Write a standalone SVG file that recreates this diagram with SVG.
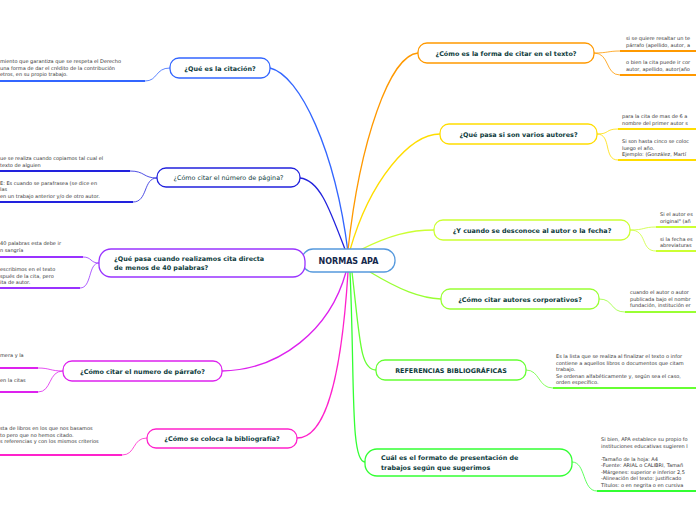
<svg xmlns="http://www.w3.org/2000/svg" width="696" height="520" viewBox="0 0 696 520">
<style>
.n{fill:#fff;stroke-width:1.3}
.t{font-family:"DejaVu Sans",sans-serif;font-weight:bold;font-size:6.4px;fill:#0d3b3b;text-anchor:middle}
.d{font-family:"DejaVu Sans",sans-serif;font-size:5px;fill:#333}
.c{fill:none;stroke-width:1.3}
.u{fill:none;stroke-width:2}
.l{fill:none;stroke-width:0.8}
</style>
<rect width="696" height="520" fill="#fff"/>
<g id="connectors">
<path class="c" stroke="#3366ff" d="M348,252 C335,150 300,75 270,68"/>
<path class="c" stroke="#2222dd" d="M346,252 C330,210 320,180 300,178"/>
<path class="c" stroke="#9933ff" d="M302,262 L305,262"/>
<path class="c" stroke="#dd22ee" d="M346,272 C330,330 280,370 222,371"/>
<path class="c" stroke="#ff22cc" d="M348,272 C340,400 320,438 297,438"/>
<path class="c" stroke="#ff9900" d="M348,250 C360,140 390,55 418,53"/>
<path class="c" stroke="#ffdd00" d="M350,250 C370,180 410,134 440,134"/>
<path class="c" stroke="#ccff33" d="M360,250 C390,235 410,230 434,230"/>
<path class="c" stroke="#99ff33" d="M370,272 C400,290 420,298 441,299"/>
<path class="c" stroke="#66ff33" d="M352,272 C360,340 360,370 376,370"/>
<path class="c" stroke="#33ff33" d="M350,272 C355,380 350,462 365,462"/>
<path class="u" stroke="#3366ff" d="M0,81 H145"/><path class="l" stroke="#3366ff" d="M145,81 C158,81 155,68 170,68"/>
<path class="u" stroke="#2222dd" d="M0,171 H130"/><path class="l" stroke="#2222dd" d="M130,171 C145,171 143,178 157,178"/>
<path class="u" stroke="#2222dd" d="M0,202 H133"/><path class="l" stroke="#2222dd" d="M133,202 C148,202 143,178 157,178"/>
<path class="u" stroke="#9933ff" d="M0,257 H83"/><path class="l" stroke="#9933ff" d="M83,257 C92,257 90,263 99,263"/>
<path class="u" stroke="#9933ff" d="M0,288 H80"/><path class="l" stroke="#9933ff" d="M80,288 C92,288 88,263 99,263"/>
<path class="u" stroke="#dd22ee" d="M0,368 H38"/><path class="l" stroke="#dd22ee" d="M38,368 C50,368 50,371 63,371"/>
<path class="u" stroke="#dd22ee" d="M0,392 H38"/><path class="l" stroke="#dd22ee" d="M38,392 C52,392 48,371 63,371"/>
<path class="u" stroke="#ff22cc" d="M0,455 H122"/><path class="l" stroke="#ff22cc" d="M122,455 C136,455 132,438 147,438"/>
<path class="l" stroke="#ff9900" d="M594,53 C608,53 608,51 620,51"/><path class="u" stroke="#ff9900" d="M620,51 H696"/>
<path class="l" stroke="#ff9900" d="M594,53 C610,53 605,75 620,75"/><path class="u" stroke="#ff9900" d="M620,75 H696"/>
<path class="l" stroke="#ffdd00" d="M597,134 C610,134 605,129 618,129"/><path class="u" stroke="#ffdd00" d="M618,129 H696"/>
<path class="l" stroke="#ffdd00" d="M597,134 C612,134 603,160 618,160"/><path class="u" stroke="#ffdd00" d="M618,160 H696"/>
<path class="l" stroke="#ccff33" d="M630,230 C645,230 643,227 656,227"/><path class="u" stroke="#ccff33" d="M656,227 H696"/>
<path class="l" stroke="#ccff33" d="M630,230 C648,230 640,251 656,251"/><path class="u" stroke="#ccff33" d="M656,251 H696"/>
<path class="l" stroke="#99ff33" d="M599,299 C614,299 610,312 625,312"/><path class="u" stroke="#99ff33" d="M625,312 H696"/>
<path class="l" stroke="#66ff33" d="M526,370 C540,370 538,388 553,388"/><path class="u" stroke="#66ff33" d="M553,388 H696"/>
<path class="l" stroke="#33ff33" d="M572,462 C586,462 582,491 597,491"/><path class="u" stroke="#33ff33" d="M597,491 H696"/>
</g>
<g id="center"><rect class="n" x="302" y="249" width="93" height="23" rx="11" stroke="#5599dd"/><text x="348.5" y="264" class="t" style="font-size:8px;fill:#14284b;font-variant:small-caps">NORMAS APA</text></g>
<g id="n1"><rect class="n" x="170" y="58" width="100" height="20" rx="9" stroke="#3366ff"/><text x="220" y="70.5" class="t">¿Qué es la citación?</text>
<text class="d" x="0" y="63">miento que garantiza que se respeta el Derecho</text><text class="d" x="0" y="69.5">una forma de dar el crédito de la contribución</text><text class="d" x="0" y="76">etros, en su propio trabajo.</text></g>
<g id="n2"><rect class="n" x="157" y="168" width="143" height="19" rx="9" stroke="#2222dd"/><text x="228.5" y="180" class="t" style="font-weight:normal">¿Cómo citar el número de página?</text>
<text class="d" x="0" y="160">ue se realiza cuando copiamos tal cual el</text><text class="d" x="0" y="166.5">texto de alguien</text>
<text class="d" x="0" y="185">E: Es cuando se parafrasea (se dice en</text><text class="d" x="0" y="191">las</text><text class="d" x="0" y="197.5">en un trabajo anterior y/o de otro autor.</text></g>
<g id="n3"><rect class="n" x="99" y="249" width="206" height="28" rx="12" stroke="#9933ff"/><text x="114" y="261" class="t" style="text-anchor:start">¿Qué pasa cuando realizamos cita directa</text><text x="114" y="270" class="t" style="text-anchor:start">de menos de 40 palabras?</text>
<text class="d" x="0" y="245">40 palabras esta debe ir</text><text class="d" x="0" y="252">n sangría</text>
<text class="d" x="0" y="271">escribimos en el texto</text><text class="d" x="0" y="277.5">spués de la cita, pero</text><text class="d" x="0" y="284">ita de autor.</text></g>
<g id="n4"><rect class="n" x="63" y="361" width="159" height="20" rx="9" stroke="#dd22ee"/><text x="142.5" y="373.5" class="t">¿Cómo citar el numero de párrafo?</text>
<text class="d" x="0" y="357">mera y la</text><text class="d" x="0" y="382">en la citas</text></g>
<g id="n5"><rect class="n" x="147" y="429" width="150" height="19" rx="9" stroke="#ff22cc"/><text x="222" y="441" class="t">¿Cómo se coloca la bibliografía?</text>
<text class="d" x="0" y="430">sta de libros en los que nos basamos</text><text class="d" x="0" y="436.5">to pero que no hemos citado.</text><text class="d" x="0" y="443">s referencias y con los mismos criterios</text></g>
<g id="n6"><rect class="n" x="418" y="43" width="176" height="20" rx="9" stroke="#ff9900"/><text x="506" y="55.5" class="t">¿Cómo es la forma de citar en el texto?</text>
<text class="d" x="626" y="40">si se quiere resaltar un te</text><text class="d" x="626" y="46.5">párrafo (apellido, autor, a</text>
<text class="d" x="626" y="64">o bien la cita puede ir cor</text><text class="d" x="626" y="70.5">autor, apellido, autor(año</text></g>
<g id="n7"><rect class="n" x="440" y="124" width="157" height="20" rx="9" stroke="#ffdd00"/><text x="518.5" y="136.5" class="t">¿Qué pasa si son varios autores?</text>
<text class="d" x="622" y="118">para la cita de mas de 6 a</text><text class="d" x="622" y="124.5">nombre del primer autor s</text>
<text class="d" x="622" y="143">Si son hasta cinco se coloc</text><text class="d" x="622" y="149.5">luego el año.</text><text class="d" x="622" y="156">Ejemplo: (González, Martí</text></g>
<g id="n8"><rect class="n" x="434" y="220" width="196" height="20" rx="9" stroke="#ccff33"/><text x="532" y="232.5" class="t">¿Y cuando se desconoce al autor o la fecha?</text>
<text class="d" x="660" y="216">Si el autor es</text><text class="d" x="660" y="222.5">original" (añ</text>
<text class="d" x="660" y="241">si la fecha es</text><text class="d" x="660" y="247">abreviaturas</text></g>
<g id="n9"><rect class="n" x="441" y="289" width="158" height="20" rx="9" stroke="#99ff33"/><text x="520" y="301.5" class="t">¿Cómo citar autores corporativos?</text>
<text class="d" x="630" y="294">cuando el autor o autor</text><text class="d" x="630" y="300.5">publicada bajo el nombr</text><text class="d" x="630" y="307">fundación, institución er</text></g>
<g id="n10"><rect class="n" x="376" y="360" width="150" height="20" rx="9" stroke="#66ff33"/><text x="451" y="372.5" class="t">REFERENCIAS BIBLIOGRÁFICAS</text>
<text class="d" x="556" y="358">Es la lista que se realiza al finalizar el texto o infor</text><text class="d" x="556" y="364.5">contiene a aquellos libros o documentos que citam</text><text class="d" x="556" y="371">trabajo.</text><text class="d" x="556" y="377.5">Se ordenan alfabéticamente y, según sea el caso,</text><text class="d" x="556" y="384">orden específico.</text></g>
<g id="n11"><rect class="n" x="365" y="449" width="207" height="27" rx="12" stroke="#33ff33"/><text x="381" y="460" class="t" style="text-anchor:start">Cuál es el formato de presentación de</text><text x="381" y="469.5" class="t" style="text-anchor:start">trabajos según que sugerimos</text>
<text class="d" x="601" y="441">Si bien, APA establece su propio fo</text><text class="d" x="601" y="447.5">instituciones educativas sugieren l</text><text class="d" x="601" y="460.5">-Tamaño de la hoja: A4</text><text class="d" x="601" y="467">-Fuente: ARIAL  o CALIBRI, Tamañ</text><text class="d" x="601" y="473.5">-Márgenes: superior  e inferior 2,5</text><text class="d" x="601" y="480">-Alineación del texto: justificado</text><text class="d" x="601" y="486.5">Títulos: o en negrita o en cursiva</text></g>
</svg>
